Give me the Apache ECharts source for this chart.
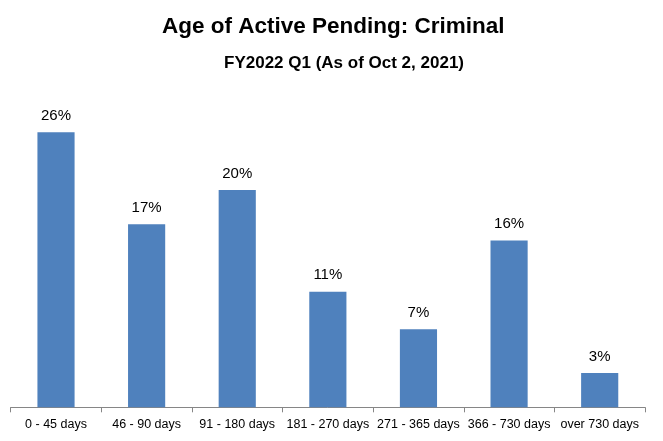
<!DOCTYPE html>
<html>
<head>
<meta charset="utf-8">
<script src="https://cdn.jsdelivr.net/npm/echarts@6/dist/echarts.min.js"></script>
<style>
  html, body { margin: 0; padding: 0; background: #fff; }
  #chart { width: 663px; height: 441px; }
</style>
</head>
<body>
<div id="chart"></div>
<script>
// age buckets and share of active pending cases (percent)
const categories = ['0 - 45 days', '46 - 90 days', '91 - 180 days', '181 - 270 days',
  '271 - 365 days', '366 - 730 days', 'over 730 days']
const shares = [25.7, 17.1, 20.3, 10.8, 7.3, 15.6, 3.2]

const font = 'Liberation Sans'
const chart = echarts.init(document.getElementById('chart'))

chart.setOption({
  animation: false,
  title: [
    {
      text: 'Age of Active Pending: Criminal',
      left: 157,
      top: 10,
      textStyle: { fontFamily: font, fontSize: 22.5, fontWeight: 'bold', color: '#000' },
    },
    {
      text: 'FY2022 Q1 (As of Oct 2, 2021)',
      left: 219,
      top: 50,
      textStyle: { fontFamily: font, fontSize: 17, fontWeight: 'bold', color: '#000' },
    },
  ],
  grid: {
    left: 10.7,
    right: 18,
    top: 86.3,
    bottom: 33.7,
  },
  xAxis: {
    type: 'category',
    data: categories,
    axisLine: { lineStyle: { color: '#868686', width: 1 } },
    axisTick: { show: true, length: 5, lineStyle: { color: '#868686' } },
    axisLabel: { fontFamily: font, fontSize: 12.5, color: '#000', margin: 11, interval: 0 },
  },
  yAxis: {
    type: 'value',
    min: 0,
    max: 30,
    show: false,
    splitLine: { show: false },
  },
  series: [
    {
      type: 'bar',
      data: shares,
      barCategoryGap: '59%',
      itemStyle: { color: '#4F81BD' },
      label: {
        show: true,
        position: 'top',
        distance: 9,
        fontFamily: font,
        fontSize: 15,
        color: '#000',
        formatter: p => Math.round(p.value) + '%',
      },
    },
  ],
})
</script>
</body>
</html>
